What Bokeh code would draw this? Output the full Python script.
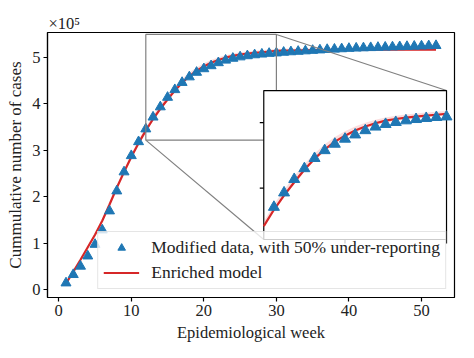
from bokeh.plotting import figure
from bokeh.models import Range1d, FixedTicker, Legend, LegendItem, CustomJSTickFormatter
from bokeh.embed import file_html
from bokeh.resources import INLINE

# ---------------- data ----------------
weeks = list(range(1, 53))
cases = [14000, 32000, 50000, 72000, 97000, 128000, 169000, 212000, 253000, 288000,
         318000, 345500, 371000, 393000, 413500, 430000, 445500, 457500, 467300, 475000,
         481500, 488000, 493500, 497500, 500500, 503000, 505000, 506600, 508100, 509000,
         510500, 511500, 512500, 513500, 514500, 515500, 516500, 517200, 518000, 518800,
         519500, 520000, 520500, 521000, 521500, 522000, 522500, 523000, 523500, 524000,
         524500, 525000]
model = [13000, 38000, 64000, 91000, 118000, 148000, 183000, 219000, 253000, 285000,
         315000, 342000, 367000, 389000, 409000, 428000, 445000, 459000, 471000, 480000,
         488000, 494000, 499000, 503000, 505500, 507700, 509300, 510700, 512000, 513500,
         514000, 514500, 514800, 515000, 515200, 515400, 515500, 515600, 515700, 515800,
         515900, 516000, 516000, 516100, 516100, 516200, 516200, 516200, 516200, 516200,
         516200, 516200]
model_lo = [12000, 36000, 62000, 89000, 116000, 146000, 180000, 216000, 250000, 282000,
            312000, 339000, 364000, 386000, 406000, 425000, 442000, 456000, 468000, 477000,
            485000, 491000, 496000, 500000, 503000, 505000, 507000, 508500, 510000, 511500,
            512000, 512500, 513000, 513200, 513400, 513600, 513700, 513800, 513900, 514000,
            514000, 514100, 514100, 514200, 514200, 514300, 514300, 514300, 514300, 514300,
            514300, 514300]
model_hi = [14000, 40000, 66000, 93000, 121000, 151000, 187000, 223000, 258000, 291000,
            322000, 349000, 375000, 397000, 418000, 437000, 453000, 467000, 478000, 487000,
            494000, 500000, 504500, 508000, 510500, 512500, 514000, 515300, 516500, 517800,
            518300, 518700, 519000, 519200, 519400, 519600, 519700, 519800, 519900, 520000,
            520100, 520200, 520200, 520300, 520300, 520400, 520400, 520400, 520400, 520400,
            520400, 520400]
x_ticks = [0, 10, 20, 30, 40, 50]
y_ticks = [0, 100000, 200000, 300000, 400000, 500000]

# zoom window (data coords) and where the inset sits (in main data coords)
zoom_x = (12, 30)
zoom_y = (321600, 549000)
inset_x = (28.26, 53.45)
inset_y = (107600, 428300)
inset_xtick = [20, 30]
inset_ytick = [400000, 500000]

BLUE = "#1f77b4"
RED = "#d62728"
GRAY = "#808080"
FONT = "Liberation Serif"

W, H = 470, 354
p = figure(width=W, height=H,
           x_range=Range1d(-1.55, 54.55), y_range=Range1d(-17200, 553200),
           output_backend="svg", toolbar_location=None,
           min_border_left=47, min_border_right=W - 454, min_border_top=32, min_border_bottom=H - 297)
p.grid.visible = False
p.outline_line_color = "black"
p.outline_line_width = 1.2
p.background_fill_color = "white"

p.title.text = "×10⁵"
p.title.align = "left"
p.title.offset = 1
p.title.standoff = 0
p.title.text_font = FONT
p.title.text_font_size = "16.5px"
p.title.text_font_style = "normal"
p.title.text_color = "#222222"

p.xaxis.ticker = FixedTicker(ticks=x_ticks)
p.yaxis.ticker = FixedTicker(ticks=y_ticks)
p.yaxis.formatter = CustomJSTickFormatter(code="return (tick/100000).toFixed(0);")
for ax in (p.xaxis[0], p.yaxis[0]):
    ax.major_tick_in = 0
    ax.major_tick_out = 4
    ax.minor_tick_in = 0
    ax.minor_tick_out = 0
    ax.axis_line_color = "black"
    ax.axis_line_width = 1.2
    ax.major_tick_line_width = 1.2
    ax.major_label_text_font = FONT
    ax.major_label_text_font_size = "16.5px"
    ax.major_label_text_color = "#222222"
    ax.major_label_standoff = 3
    ax.axis_label_text_font = FONT
    ax.axis_label_text_font_style = "normal"
    ax.axis_label_text_color = "#222222"
    ax.axis_label_standoff = 4
p.xaxis.axis_label = "Epidemiological week"
p.xaxis.axis_label_text_font_size = "16.5px"
p.yaxis.axis_label = "Cummulative number of cases"
p.yaxis.axis_label_text_font_size = "17px"

# main data
p.varea(x=weeks, y1=model_lo, y2=model_hi, fill_color="#f4a0a0", fill_alpha=0.35)
r_line = p.line(weeks, model, line_color=RED, line_width=2.2)
r_tri = p.scatter(weeks, cases, marker="triangle", size=10, fill_color=BLUE, line_color=BLUE)

# zoom box and connectors
p.quad(left=[zoom_x[0]], right=[zoom_x[1]], bottom=[zoom_y[0]], top=[zoom_y[1]],
       fill_color=None, line_color=GRAY, line_width=1.2)
p.segment(x0=[zoom_x[0], zoom_x[1]], y0=[zoom_y[0], zoom_y[1]],
          x1=[inset_x[0], inset_x[1]], y1=[inset_y[0], inset_y[1]],
          line_color=GRAY, line_width=1.2)

# inset via sub-coordinates
sub = p.subplot(x_source=Range1d(*zoom_x), y_source=Range1d(*zoom_y),
                x_target=Range1d(*inset_x), y_target=Range1d(*inset_y))
sub.quad(left=[zoom_x[0]], right=[zoom_x[1]], bottom=[zoom_y[0]], top=[zoom_y[1]],
         fill_color="white", line_color="black", line_width=1.2)
i0, i1 = zoom_x[0] - 1, zoom_x[1]
sub.varea(x=weeks[i0:i1], y1=model_lo[i0:i1], y2=model_hi[i0:i1], fill_color="#f4a0a0", fill_alpha=0.35)
sub.line(weeks[i0:i1], model[i0:i1], line_color=RED, line_width=2.2)
sub.scatter(weeks[i0 + 1:i1], cases[i0 + 1:i1], marker="triangle", size=11, fill_color=BLUE, line_color=BLUE)

# inset tick marks (outward, ~4px)
px_w = (inset_x[1] - inset_x[0]) * 407 / 56.1
px_h = (inset_y[1] - inset_y[0]) * 265 / 570400
dx = 4 * (zoom_x[1] - zoom_x[0]) / px_w
dy = 4 * (zoom_y[1] - zoom_y[0]) / px_h
sub.segment(x0=inset_xtick, x1=inset_xtick, y0=[zoom_y[0]] * 2, y1=[zoom_y[0] - dy] * 2,
            line_color="black", line_width=1.2)
sub.segment(x0=[zoom_x[0]] * 2, x1=[zoom_x[0] - dx] * 2, y0=inset_ytick, y1=inset_ytick,
            line_color="black", line_width=1.2)

legend = Legend(items=[LegendItem(label="Modified data, with 50% under-reporting", renderers=[r_tri]),
                       LegendItem(label="Enriched model", renderers=[r_line])],
                location="bottom_right", margin=8, padding=5, spacing=4,
                glyph_width=36, glyph_height=19, label_height=19, label_standoff=12,
                label_text_font=FONT, label_text_font_size="17.5px", label_text_color="#222222",
                background_fill_alpha=0.8, border_line_color="#cccccc", border_line_width=1)
p.add_layout(legend)

open("out.html", "w").write(file_html(p, INLINE))
